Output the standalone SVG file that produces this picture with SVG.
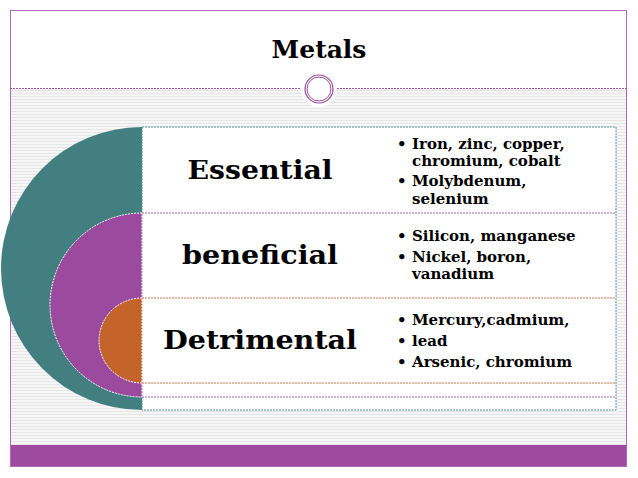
<svg xmlns="http://www.w3.org/2000/svg" width="638" height="478" viewBox="0 0 638 478">
<defs>
<pattern id="stripes" width="4" height="3" patternUnits="userSpaceOnUse"><rect width="4" height="3" fill="#f6f6f6"/><rect width="4" height="1" fill="#e6e6e6"/></pattern>
<style>
.h{font-family:"DejaVu Serif",serif;font-weight:bold;fill:#000}
.b{font-family:"DejaVu Serif",serif;font-weight:bold;font-size:15px;fill:#000}
</style>
</defs>
<rect width="638" height="478" fill="#fff"/>
<rect x="10" y="88" width="617" height="357" fill="url(#stripes)"/>
<rect x="10" y="445" width="617" height="22" fill="#9e4a9e"/>
<rect x="10.5" y="10.5" width="616" height="456" fill="none" stroke="#b06ab8" stroke-width="1"/>
<line x1="10" y1="88.5" x2="627" y2="88.5" stroke="#a050a8" stroke-dasharray="2,1"/>
<g id="title"><text x="319" y="58" text-anchor="middle" class="h" font-size="25" fill="#222">Metals</text></g>
<g id="ornament">
<circle cx="319" cy="89" r="18" fill="#fff"/>
<circle cx="319" cy="89" r="14" fill="#fff" stroke="#9e4a9e" stroke-width="1.2"/>
<circle cx="319" cy="89" r="12" fill="none" stroke="#9e4a9e" stroke-width="1"/>
</g>
<g id="essential">
<path d="M142 127 A141 141.5 0 0 0 142 410 Z" fill="#437e80"/>
<rect x="142" y="127" width="474" height="283" fill="#fff" stroke="#5a9a9a" stroke-dasharray="2,1"/>
<text x="260" y="179" text-anchor="middle" class="h" font-size="26" textLength="145" lengthAdjust="spacingAndGlyphs">Essential</text>
<text class="b"><tspan x="397" y="149">•</tspan><tspan x="412" y="149">Iron, zinc, copper,</tspan><tspan x="412" y="166">chromium, cobalt</tspan><tspan x="397" y="186">•</tspan><tspan x="412" y="186">Molybdenum,</tspan><tspan x="412" y="204">selenium</tspan></text>
</g>
<g id="beneficial">
<path d="M142 213 A92 92 0 0 0 142 397 Z" fill="#9b4a9e" stroke="#fff" stroke-dasharray="2,1"/>
<line x1="142" y1="213" x2="616" y2="213" stroke="#b060b8" stroke-dasharray="2,1"/>
<line x1="142" y1="397" x2="616" y2="397" stroke="#b060b8" stroke-dasharray="2,1"/>
<text x="260" y="264" text-anchor="middle" class="h" font-size="26" textLength="156" lengthAdjust="spacingAndGlyphs">beneficial</text>
<text class="b"><tspan x="397" y="241">•</tspan><tspan x="412" y="241">Silicon, manganese</tspan><tspan x="397" y="262">•</tspan><tspan x="412" y="262">Nickel, boron,</tspan><tspan x="412" y="279">vanadium</tspan></text>
</g>
<g id="detrimental">
<path d="M142 298 A43 42.5 0 0 0 142 383 Z" fill="#c4632a" stroke="#fff" stroke-dasharray="2,1"/>
<line x1="142" y1="298" x2="616" y2="298" stroke="#d07040" stroke-dasharray="2,1"/>
<line x1="142" y1="383" x2="616" y2="383" stroke="#d07040" stroke-dasharray="2,1"/>
<text x="260" y="349" text-anchor="middle" class="h" font-size="26" textLength="194" lengthAdjust="spacingAndGlyphs">Detrimental</text>
<text class="b"><tspan x="397" y="325">•</tspan><tspan x="412" y="325">Mercury,cadmium,</tspan><tspan x="397" y="346">•</tspan><tspan x="412" y="346">lead</tspan><tspan x="397" y="367">•</tspan><tspan x="412" y="367">Arsenic, chromium</tspan></text>
</g>
<g id="connectors"></g>
</svg>
